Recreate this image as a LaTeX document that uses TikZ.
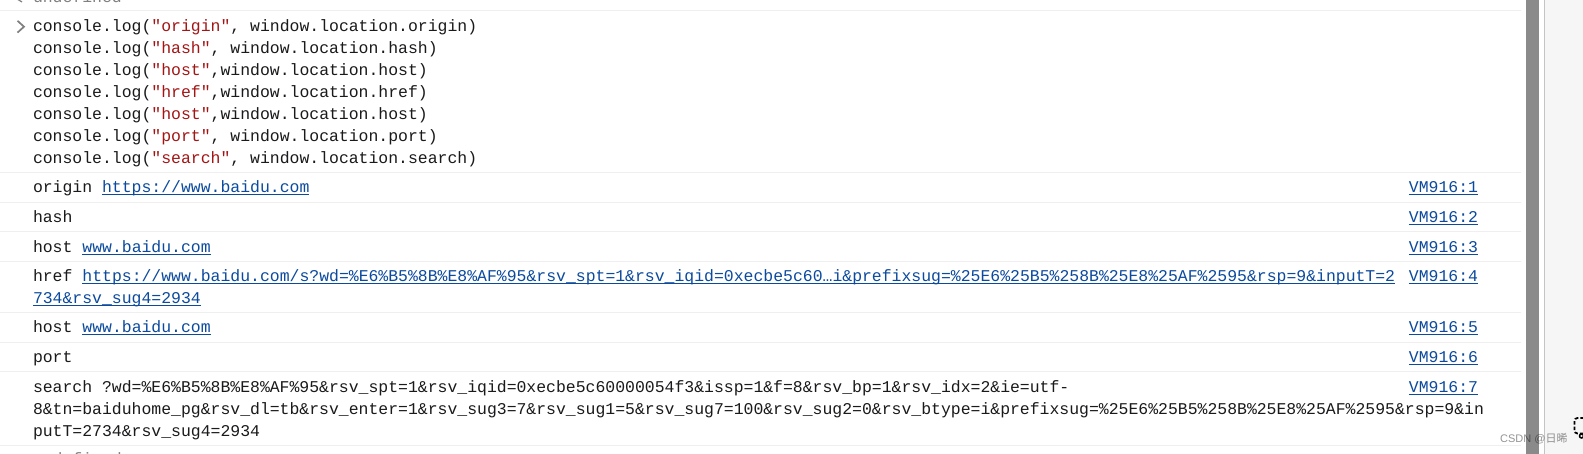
\documentclass[tikz,border=0pt]{standalone}
\usepackage{fontspec}
\newfontfamily\consolefont{Liberation Mono}[Ligatures=NoCommon]
\newfontfamily\cjkfont{Noto Sans CJK SC}
\setmainfont{Liberation Sans}
\definecolor{codeink}{HTML}{1A1A1C}
\definecolor{strred}{HTML}{A31515}
\definecolor{linkblue}{HTML}{0B4A9E}
\definecolor{sepgray}{HTML}{EFEFEF}
\definecolor{mutedgray}{HTML}{808080}
\definecolor{scrollgray}{HTML}{8A8A8A}
\definecolor{panelgray}{HTML}{F6F6F6}
\definecolor{panelline}{HTML}{C4C4C4}
\tikzset{
  con/.style={anchor=base west,inner sep=0pt,outer sep=0pt,text=codeink,font=\consolefont\fontsize{16.45}{20}\selectfont},
  lnk/.style={con,text=linkblue},
  srcref/.style={con,text=linkblue,anchor=base east},
  muted/.style={con,text=mutedgray},
  sepline/.style={draw=sepgray,line width=1pt},
  uline/.style={draw=linkblue,line width=0.9pt},
  chev/.style={draw=#1,line width=1.7pt},
}
\newcommand{\rd}[1]{\textcolor{strred}{#1}}
\newcommand{\linknode}[4]{%
  \node[#1] (#2) at #3 {#4};
  \draw[uline] ([yshift=-1.9pt]#2.base west) -- ([yshift=-1.9pt]#2.base east);
}
\begin{document}
\begin{tikzpicture}[x=1pt,y=-1pt]
\useasboundingbox (0,0) rectangle (1583,454);
\clip (0,0) rectangle (1583,454);
\fill[white] (0,0) rectangle (1583,454);
% right side
\fill[scrollgray] (1526,0) rectangle (1539,454);
\fill[panelgray] (1545,0) rectangle (1583,454);
\fill[panelline] (1544,0) rectangle (1545.2,454);
% separators
\foreach \yy in {10.5,172.5,202.3,231.3,261.3,312.7,342.3,371.3,445}
  \draw[sepline] (0,\yy) -- (1521,\yy);
% clipped results
\coordinate (topchevA) at (22,-4);
\coordinate (topchevB) at (17,-1);
\coordinate (topchevC) at (22,2);
\draw[chev=mutedgray,line width=1.2pt] (topchevA) -- (topchevB) -- (topchevC);
\node[muted] (undefA) at (33,2.5) {undefined};
\node[muted] (undefB) at (33,464) {undefined};
% prompt
\coordinate (pA) at (17.5,20.8);
\coordinate (pB) at (24,26.7);
\coordinate (pC) at (17.5,32.6);
\draw[chev=mutedgray] (pA) -- (pB) -- (pC);
% code
\node[con] (c1) at (33,31.7) {console.log(\rd{"origin"}, window.location.origin)};
\node[con] (c2) at (33,53.7) {console.log(\rd{"hash"}, window.location.hash)};
\node[con] (c3) at (33,75.7) {console.log(\rd{"host"},window.location.host)};
\node[con] (c4) at (33,97.7) {console.log(\rd{"href"},window.location.href)};
\node[con] (c5) at (33,119.7) {console.log(\rd{"host"},window.location.host)};
\node[con] (c6) at (33,141.7) {console.log(\rd{"port"}, window.location.port)};
\node[con] (c7) at (33,163.7) {console.log(\rd{"search"}, window.location.search)};
% output
\node[con] (o1) at (33,192.7) {origin};
\linknode{lnk}{o1l}{(102.1,192.7)}{https://www.baidu.com}
\node[con] (o2) at (33,222.7) {hash};
\node[con] (o3) at (33,252.7) {host};
\linknode{lnk}{o3l}{(82.4,252.7)}{www.baidu.com}
\node[con] (o4) at (33,281.7) {href};
\linknode{lnk}{o4l}{(82.4,281.7)}{https://www.baidu.com/s?wd=\%E6\%B5\%8B\%E8\%AF\%95\&rsv\_spt=1\&rsv\_iqid=0xecbe5c60…i\&prefixsug=\%25E6\%25B5\%258B\%25E8\%25AF\%2595\&rsp=9\&inputT=2}
\linknode{lnk}{o4m}{(33,303.7)}{734\&rsv\_sug4=2934}
\node[con] (o5) at (33,332.7) {host};
\linknode{lnk}{o5l}{(82.4,332.7)}{www.baidu.com}
\node[con] (o6) at (33,362.7) {port};
\node[con] (o7) at (33,392.7) {search ?wd=\%E6\%B5\%8B\%E8\%AF\%95\&rsv\_spt=1\&rsv\_iqid=0xecbe5c60000054f3\&issp=1\&f=8\&rsv\_bp=1\&rsv\_idx=2\&ie=utf-};
\node[con] (o7b) at (33,414.7) {8\&tn=baiduhome\_pg\&rsv\_dl=tb\&rsv\_enter=1\&rsv\_sug3=7\&rsv\_sug1=5\&rsv\_sug7=100\&rsv\_sug2=0\&rsv\_btype=i\&prefixsug=\%25E6\%25B5\%258B\%25E8\%25AF\%2595\&rsp=9\&in};
\node[con] (o7c) at (33,436.7) {putT=2734\&rsv\_sug4=2934};
% source references
\linknode{srcref}{r1}{(1478,192.7)}{VM916:1}
\linknode{srcref}{r2}{(1478,222.7)}{VM916:2}
\linknode{srcref}{r3}{(1478,252.7)}{VM916:3}
\linknode{srcref}{r4}{(1478,281.7)}{VM916:4}
\linknode{srcref}{r5}{(1478,332.7)}{VM916:5}
\linknode{srcref}{r6}{(1478,362.7)}{VM916:6}
\linknode{srcref}{r7}{(1478,392.7)}{VM916:7}
% watermark
\node[anchor=base west,inner sep=0pt,text=black,opacity=0.42,font=\fontsize{11}{13}\selectfont] (wm) at (1500,442.5) {CSDN @{\cjkfont 日晞}};
% screenshot icon
\draw[black,line width=1.8pt,dash pattern=on 3.5pt off 2pt,rounded corners=3pt] (1574.5,418) -- (1574.5,433.5) -- (1592,433.5) -- (1592,418) -- cycle;
\draw[black,line width=1.5pt] (1581.5,436) circle (2pt);
\end{tikzpicture}
\end{document}
